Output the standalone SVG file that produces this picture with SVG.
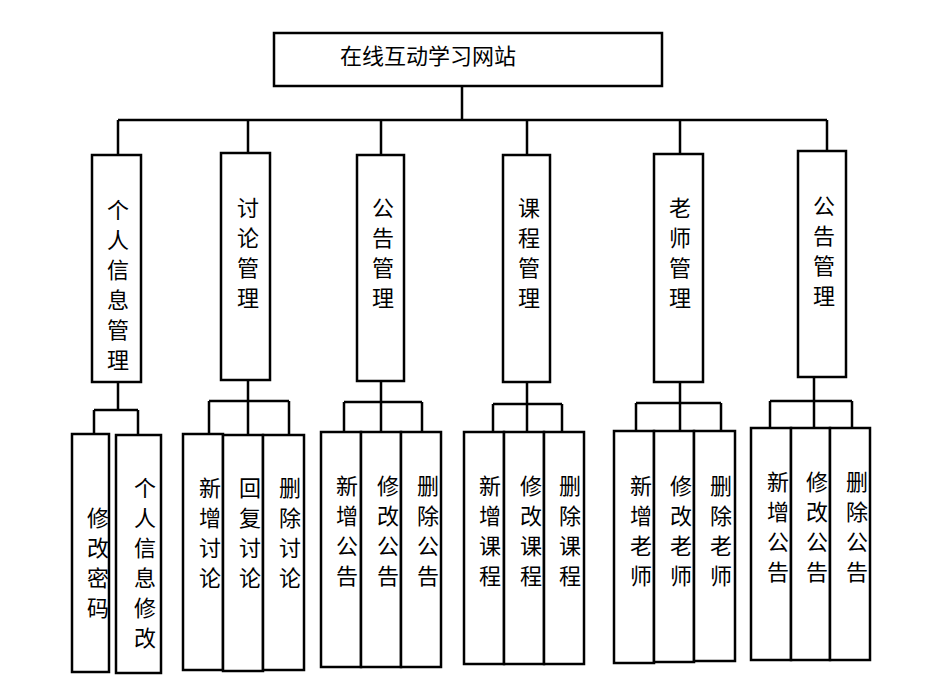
<svg xmlns="http://www.w3.org/2000/svg" width="941" height="677" viewBox="0 0 941 677">
<style>
rect{fill:#fff;stroke:#000;stroke-width:2.5}
.c path{fill:none;stroke:#000;stroke-width:2.5}
text{font-family:"Noto Sans CJK SC","Noto Sans CJK JP",sans-serif;font-size:22px;fill:#000;text-anchor:middle}
</style>
<rect width="941" height="677" style="stroke:none"/>
<g class="c">
<path d="M462 86V120M118 120H827M118 120V155M248 120V153M381 120V155M527 120V155M680 120V154M827 120V151"/>
<path d="M118 382V410M94 410H138M94 410V435M138 410V435"/>
<path d="M248 380V401M209 401H289M209 401V434M289 401V435M248 401V435"/>
<path d="M381 381V402M344 402H422M344 402V432M422 402V432M381 402V432"/>
<path d="M527 382V404M493 404H562M493 404V432M562 404V432M527 404V432"/>
<path d="M680 382V403M636 403H721M636 403V431M721 403V431M680 403V431"/>
<path d="M814 377V401M770 401H852M770 401V428M852 401V428M814 401V428"/>
</g>
<g id="root"><rect x="274" y="33" width="388" height="53"/><text x="428" y="64" style="text-anchor:middle">在线互动学习网站</text></g>
<g id="n1"><rect x="92" y="155" width="49" height="227"/><text x="118"><tspan x="118" y="218">个</tspan><tspan x="118" y="248">人</tspan><tspan x="118" y="278">信</tspan><tspan x="118" y="308">息</tspan><tspan x="118" y="338">管</tspan><tspan x="118" y="368">理</tspan></text></g>
<g id="n2"><rect x="221" y="153" width="49" height="227"/><text><tspan x="248" y="216">讨</tspan><tspan x="248" y="246">论</tspan><tspan x="248" y="276">管</tspan><tspan x="248" y="306">理</tspan></text></g>
<g id="n3"><rect x="357" y="155" width="47" height="226"/><text><tspan x="383" y="216">公</tspan><tspan x="383" y="246">告</tspan><tspan x="383" y="276">管</tspan><tspan x="383" y="306">理</tspan></text></g>
<g id="n4"><rect x="503" y="155" width="47" height="227"/><text><tspan x="529" y="216">课</tspan><tspan x="529" y="246">程</tspan><tspan x="529" y="276">管</tspan><tspan x="529" y="306">理</tspan></text></g>
<g id="n5"><rect x="654" y="154" width="49" height="228"/><text><tspan x="680" y="216">老</tspan><tspan x="680" y="246">师</tspan><tspan x="680" y="276">管</tspan><tspan x="680" y="306">理</tspan></text></g>
<g id="n6"><rect x="798" y="151" width="48" height="226"/><text><tspan x="824" y="214">公</tspan><tspan x="824" y="244">告</tspan><tspan x="824" y="274">管</tspan><tspan x="824" y="304">理</tspan></text></g>
<g id="a1"><rect x="72" y="434" width="37" height="238"/><text><tspan x="98" y="526">修</tspan><tspan x="98" y="556">改</tspan><tspan x="98" y="586">密</tspan><tspan x="98" y="616">码</tspan></text></g>
<g id="a2"><rect x="116" y="435" width="45" height="238"/><text><tspan x="145" y="496">个</tspan><tspan x="145" y="526">人</tspan><tspan x="145" y="556">信</tspan><tspan x="145" y="586">息</tspan><tspan x="145" y="616">修</tspan><tspan x="145" y="646">改</tspan></text></g>
<g id="b1"><rect x="183" y="434" width="40" height="236"/><text><tspan x="210" y="496">新</tspan><tspan x="210" y="526">增</tspan><tspan x="210" y="556">讨</tspan><tspan x="210" y="586">论</tspan></text></g>
<g id="b2"><rect x="223" y="435" width="40" height="236"/><text><tspan x="250" y="496">回</tspan><tspan x="250" y="526">复</tspan><tspan x="250" y="556">讨</tspan><tspan x="250" y="586">论</tspan></text></g>
<g id="b3"><rect x="263" y="435" width="41" height="235"/><text><tspan x="290" y="496">删</tspan><tspan x="290" y="526">除</tspan><tspan x="290" y="556">讨</tspan><tspan x="290" y="586">论</tspan></text></g>
<g id="c1"><rect x="321" y="432" width="40" height="235"/><text><tspan x="347" y="494">新</tspan><tspan x="347" y="524">增</tspan><tspan x="347" y="554">公</tspan><tspan x="347" y="584">告</tspan></text></g>
<g id="c2"><rect x="361" y="432" width="40" height="235"/><text><tspan x="388" y="494">修</tspan><tspan x="388" y="524">改</tspan><tspan x="388" y="554">公</tspan><tspan x="388" y="584">告</tspan></text></g>
<g id="c3"><rect x="401" y="432" width="40" height="235"/><text><tspan x="428" y="494">删</tspan><tspan x="428" y="524">除</tspan><tspan x="428" y="554">公</tspan><tspan x="428" y="584">告</tspan></text></g>
<g id="d1"><rect x="464" y="432" width="40" height="232"/><text><tspan x="490" y="494">新</tspan><tspan x="490" y="524">增</tspan><tspan x="490" y="554">课</tspan><tspan x="490" y="584">程</tspan></text></g>
<g id="d2"><rect x="504" y="432" width="40" height="232"/><text><tspan x="531" y="494">修</tspan><tspan x="531" y="524">改</tspan><tspan x="531" y="554">课</tspan><tspan x="531" y="584">程</tspan></text></g>
<g id="d3"><rect x="544" y="432" width="40" height="232"/><text><tspan x="570" y="494">删</tspan><tspan x="570" y="524">除</tspan><tspan x="570" y="554">课</tspan><tspan x="570" y="584">程</tspan></text></g>
<g id="e1"><rect x="614" y="431" width="40" height="232"/><text><tspan x="641" y="494">新</tspan><tspan x="641" y="524">增</tspan><tspan x="641" y="554">老</tspan><tspan x="641" y="584">师</tspan></text></g>
<g id="e2"><rect x="654" y="431" width="40" height="231"/><text><tspan x="681" y="494">修</tspan><tspan x="681" y="524">改</tspan><tspan x="681" y="554">老</tspan><tspan x="681" y="584">师</tspan></text></g>
<g id="e3"><rect x="694" y="431" width="41" height="230"/><text><tspan x="721" y="494">删</tspan><tspan x="721" y="524">除</tspan><tspan x="721" y="554">老</tspan><tspan x="721" y="584">师</tspan></text></g>
<g id="f1"><rect x="751" y="428" width="40" height="232"/><text><tspan x="778" y="490">新</tspan><tspan x="778" y="520">增</tspan><tspan x="778" y="550">公</tspan><tspan x="778" y="580">告</tspan></text></g>
<g id="f2"><rect x="791" y="428" width="39" height="232"/><text><tspan x="817" y="490">修</tspan><tspan x="817" y="520">改</tspan><tspan x="817" y="550">公</tspan><tspan x="817" y="580">告</tspan></text></g>
<g id="f3"><rect x="830" y="428" width="40" height="232"/><text><tspan x="857" y="490">删</tspan><tspan x="857" y="520">除</tspan><tspan x="857" y="550">公</tspan><tspan x="857" y="580">告</tspan></text></g>
</svg>
